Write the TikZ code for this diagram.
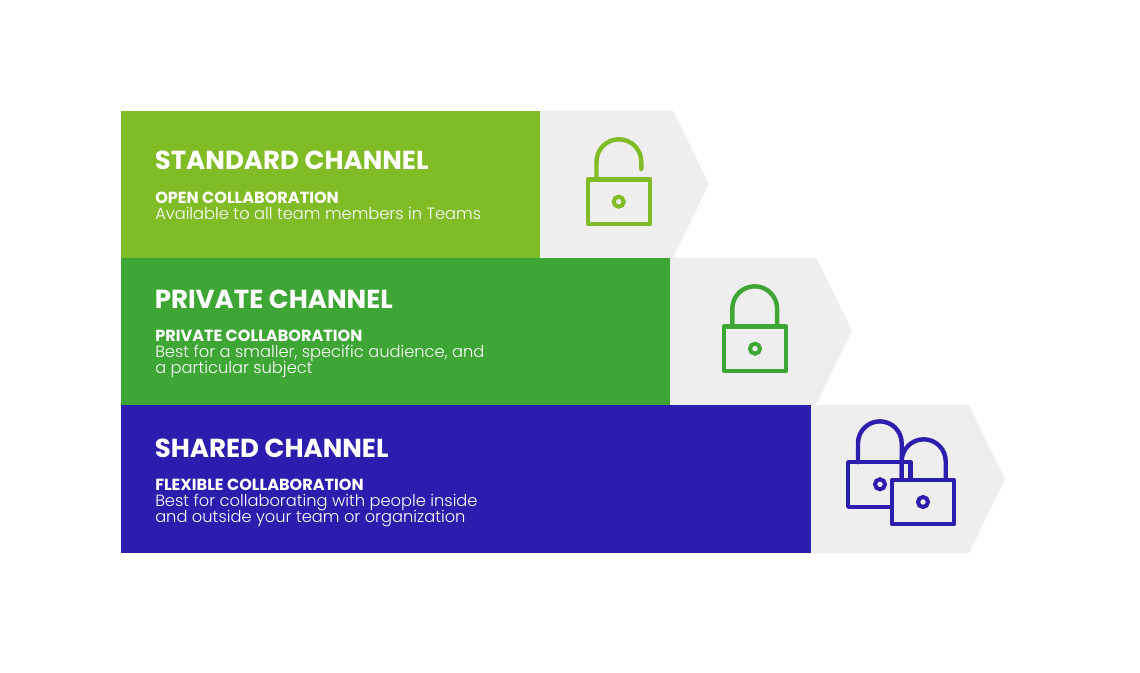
\documentclass[tikz,border=0pt]{standalone}
\usepackage{fontspec}
\setmainfont{Poppins}
\newfontfamily\poplight{Poppins Light}
\definecolor{cgreen}{HTML}{80BC26}
\definecolor{cdark}{HTML}{3DA635}
\definecolor{cblue}{HTML}{2B1EAE}
\definecolor{cgray}{HTML}{EEEEEE}
\tikzset{
  titletext/.style={anchor=base west,inner sep=0pt,text=white,font=\fontsize{19.55pt}{20pt}\selectfont\bfseries},
  subtext/.style={anchor=base west,inner sep=0pt,text=white,font=\fontsize{12.06pt}{13pt}\selectfont\bfseries},
  bodytext/.style={anchor=base west,inner sep=0pt,text=white,font=\fontsize{12.2pt}{13pt}\selectfont\poplight},
  icon/.style={line width=3.3pt,line join=round,line cap=round},
  hole/.style={line width=3pt},
}
\begin{document}
\begin{tikzpicture}[x=0.75pt,y=-0.75pt]
\useasboundingbox (0,0) rectangle (1140,672);
\fill[white] (0,0) rectangle (1140,672);
% chevrons
\fill[cgray] (540,110.5) -- (673,110.5) -- (709,184) -- (673,257.5) -- (540,257.5) -- cycle;
\fill[cgray] (670,257.5) -- (816,257.5) -- (852,331) -- (816,405) -- (670,405) -- cycle;
\fill[cgray] (811,405) -- (969,405) -- (1005,479) -- (969,553) -- (811,553) -- cycle;
% bars
\fill[cgreen] (121,110.5) rectangle (540,257.5);
\fill[cdark] (121,257.5) rectangle (670,405);
\fill[cblue] (121,405) rectangle (811,553);
% open lock
\draw[icon,draw=cgreen] (587.9,179.5) rectangle (650.1,223.8);
\draw[icon,draw=cgreen] (596.5,179.5) -- (596.5,161.7) arc[start angle=180,end angle=360,x radius=22.4,y radius=22.4] -- (641.3,169);
\draw[hole,draw=cgreen] (618.7,201.7) circle[radius=5];
% closed lock
\draw[icon,draw=cdark] (724.2,326.5) rectangle (786.1,371.1);
\draw[icon,draw=cdark] (732.3,326.5) -- (732.3,308.7) arc[start angle=180,end angle=360,x radius=22.4,y radius=22.4] -- (777.1,326.5);
\draw[hole,draw=cdark] (755,348.7) circle[radius=5];
% pair of locks
\draw[icon,draw=cblue] (891.9,506.8) -- (848.2,506.8) -- (848.2,462.2) -- (910.5,462.2) -- (910.5,479.9);
\draw[icon,draw=cblue] (858,462.2) -- (858,443.2) arc[start angle=180,end angle=360,x radius=21.85,y radius=21.85] -- (901.7,479.9);
\draw[hole,draw=cblue] (880,484.3) circle[radius=5];
\draw[icon,draw=cblue] (891.9,479.9) rectangle (954.1,524.1);
\draw[icon,draw=cblue] (901.7,479.9) -- (901.7,461.3) arc[start angle=180,end angle=360,x radius=22,y radius=22] -- (945.7,479.9);
\draw[hole,draw=cblue] (923,502) circle[radius=5];
% text
\node[titletext] (t1) at (154.5,169.7) {STANDARD CHANNEL};
\node[subtext] (s1) at (155,203.3) {OPEN COLLABORATION};
\node[bodytext] (b1) at (155,219.5) {Available to all team members in Teams};
\node[titletext] (t2) at (154.5,308.2) {PRIVATE CHANNEL};
\node[subtext] (s2) at (155,341) {PRIVATE COLLABORATION};
\node[bodytext] (b2) at (155,357) {Best for a smaller, specific audience, and};
\node[bodytext] (b2b) at (155,373) {a particular subject};
\node[titletext] (t3) at (154.5,457) {SHARED CHANNEL};
\node[subtext] (s3) at (155,490) {FLEXIBLE COLLABORATION};
\node[bodytext] (b3) at (155,506) {Best for collaborating with people inside};
\node[bodytext] (b3b) at (155,522) {and outside your team or organization};
\end{tikzpicture}
\end{document}
